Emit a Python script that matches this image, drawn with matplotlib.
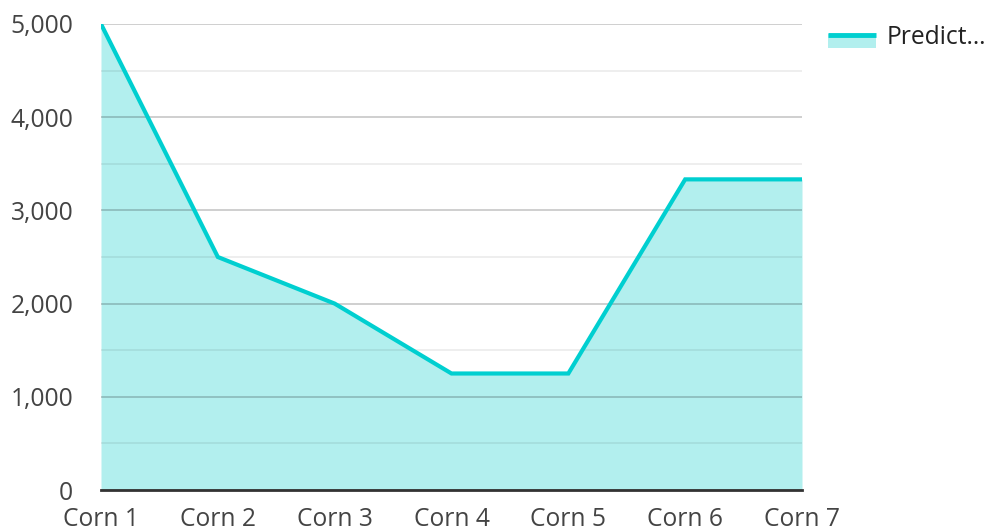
import matplotlib
matplotlib.use("Agg")
import matplotlib.pyplot as plt
from matplotlib.ticker import MultipleLocator, FuncFormatter
from matplotlib.lines import Line2D

plt.rcParams['font.family'] = ['Open Sans', 'DejaVu Sans']

# data
categories = ["Corn 1", "Corn 2", "Corn 3", "Corn 4", "Corn 5", "Corn 6", "Corn 7"]
predicted = [5000, 2500, 2000, 1250, 1250, 3333, 3333]
series_name = "Predict…"

line_color = "#00cfd0"
fill_color = "#b2efee"
text_color = "#444444"
fs = 17.7

fig = plt.figure(figsize=(9.89, 5.31), dpi=100)
ax = fig.add_axes([101 / 989, 41 / 531, 701 / 989, 466 / 531])

x = list(range(len(categories)))
ax.fill_between(x, predicted, 0, color=fill_color, lw=0, zorder=1)
ax.plot(x, predicted, color=line_color, lw=3, zorder=3, solid_joinstyle="miter")

ax.set_xlim(0, len(categories) - 1)
ax.set_ylim(0, 5000)
ax.set_axisbelow('line')
ax.yaxis.set_major_locator(MultipleLocator(1000))
ax.yaxis.set_minor_locator(MultipleLocator(500))
ax.yaxis.set_major_formatter(FuncFormatter(lambda v, p: f"{int(v):,}"))
ax.grid(axis="y", which="major", color="black", alpha=0.22, lw=1.2)
ax.grid(axis="y", which="minor", color="black", alpha=0.08, lw=1.2)
ax.set_xticks(x)
ax.set_xticklabels(categories)

for s in ["left", "right", "top"]:
    ax.spines[s].set_visible(False)
ax.spines["bottom"].set_color("#333333")
ax.spines["bottom"].set_linewidth(2)
ax.spines["bottom"].set_zorder(4)

ax.tick_params(axis="y", which="both", length=0, pad=20, labelsize=fs, labelcolor=text_color)
ax.tick_params(axis="x", length=0, pad=12, labelsize=fs, labelcolor=text_color)

# legend drawn in figure coords
fig.patches.append(plt.Rectangle((828 / 989, 1 - 48 / 531), 48 / 989, 14 / 531,
                                 color=fill_color, transform=fig.transFigure, figure=fig, lw=0))
fig.lines.append(Line2D([828 / 989, 876 / 989], [1 - 35 / 531, 1 - 35 / 531],
                        color=line_color, lw=3.5, solid_capstyle="butt",
                        transform=fig.transFigure, figure=fig))
fig.text(887 / 989, 1 - 37 / 531, series_name, fontsize=fs, color="#222222",
         va="center", ha="left")

fig.savefig("out.png", dpi=100)
